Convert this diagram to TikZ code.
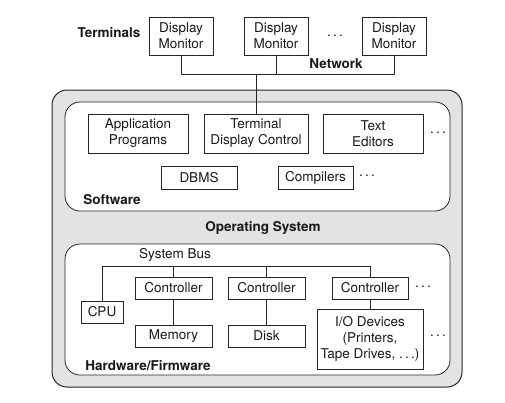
\documentclass[tikz,border=0pt]{standalone}
\usepackage{fontspec}
\setmainfont{TeX Gyre Heros}
\begin{document}
\begin{tikzpicture}[x=1pt,y=-1pt,
  line width=0.8pt, draw=black!85,
  txt/.style={font=\fontsize{13.5}{16}\selectfont, inner sep=0pt, align=center, text=black!90},
  lbl/.style={txt, font=\fontsize{13.5}{16}\selectfont\bfseries},
  box/.style={txt, draw=black!85, line width=0.8pt, fill=white, minimum height=22pt},
  frame/.style={draw=black!85, rounded corners=15pt}]
\useasboundingbox (0,0) rectangle (505,402);
% outer OS frame
\draw[frame, fill=black!11, line width=1pt] (52,90) rectangle (462,387);
\draw[frame, fill=white] (65,102) rectangle (450,211);
\draw[frame, fill=white] (65,244) rectangle (450,375);
% terminals
\node[lbl] (term) at (109,33) {Terminals};
\node[box, minimum width=64pt, minimum height=38pt] (dm1) at (181,36) {Display\\Monitor};
\node[box, minimum width=64pt, minimum height=38pt] (dm2) at (276,36) {Display\\Monitor};
\node[box, minimum width=64pt, minimum height=38pt] (dm3) at (394,36) {Display\\Monitor};
\node[txt] (tdots) at (335,36) {.\,.\,.};
\node[lbl] (net) at (336,64) {Network};
\coordinate (netbus) at (0,74);
% software
\node[box, minimum width=100pt, minimum height=39pt] (app) at (138,133.5) {Application\\Programs};
\node[box, minimum width=104pt, minimum height=39pt] (tdc) at (256,133.5) {Terminal\\Display Control};
\node[box, minimum width=100pt, minimum height=39pt] (ted) at (373,133.5) {Text\\Editors};
\node[txt] (sdots1) at (438,133) {.\,.\,.};
\node[box, minimum width=76pt, minimum height=23pt] (dbms) at (199,177.5) {DBMS};
\node[box, minimum width=75pt, minimum height=23pt] (comp) at (315.5,177.5) {Compilers};
\node[txt] (sdots2) at (367,176) {.\,.\,.};
\node[lbl, anchor=west] (sw) at (83,200) {Software};
\node[lbl] (os) at (263,228) {Operating System};
% hardware
\node[txt] (sbus) at (175,255) {System Bus};
\coordinate (hbus) at (0,266);
\node[box, minimum width=42pt] (cpu) at (102,312) {CPU};
\node[box, minimum width=77pt] (c1) at (173.5,288) {Controller};
\node[box, minimum width=77pt] (mem) at (173.5,336) {Memory};
\node[box, minimum width=77pt] (c2) at (266.5,288) {Controller};
\node[box, minimum width=77pt] (disk) at (266.5,336) {Disk};
\node[box, minimum width=76pt] (c3) at (370,288) {Controller};
\node[txt] (hdots1) at (423,287) {.\,.\,.};
\node[box, minimum width=106pt, minimum height=60pt] (io) at (370,339) {I/O Devices\\(Printers,\\Tape Drives, .\,.\,.)};
\node[txt] (hdots2) at (438,336) {.\,.\,.};
\node[lbl, anchor=west] (hw) at (85,366) {Hardware/Firmware};
% connectors
\draw (dm1.south) -- (dm1.south |- netbus) -- (dm3.south |- netbus) -- (dm3.south);
\draw (dm2.south) -- (dm2.south |- netbus);
\draw (tdc.north) -- (tdc.north |- netbus);
\draw (cpu.north) -- (cpu.north |- hbus) -- (c3.north |- hbus) -- (c3.north);
\draw (c1.north) -- (c1.north |- hbus);
\draw (c2.north) -- (c2.north |- hbus);
\draw (c1.south) -- (mem.north);
\draw (c2.south) -- (disk.north);
\draw (c3.south) -- (io.north);
\end{tikzpicture}
\end{document}
